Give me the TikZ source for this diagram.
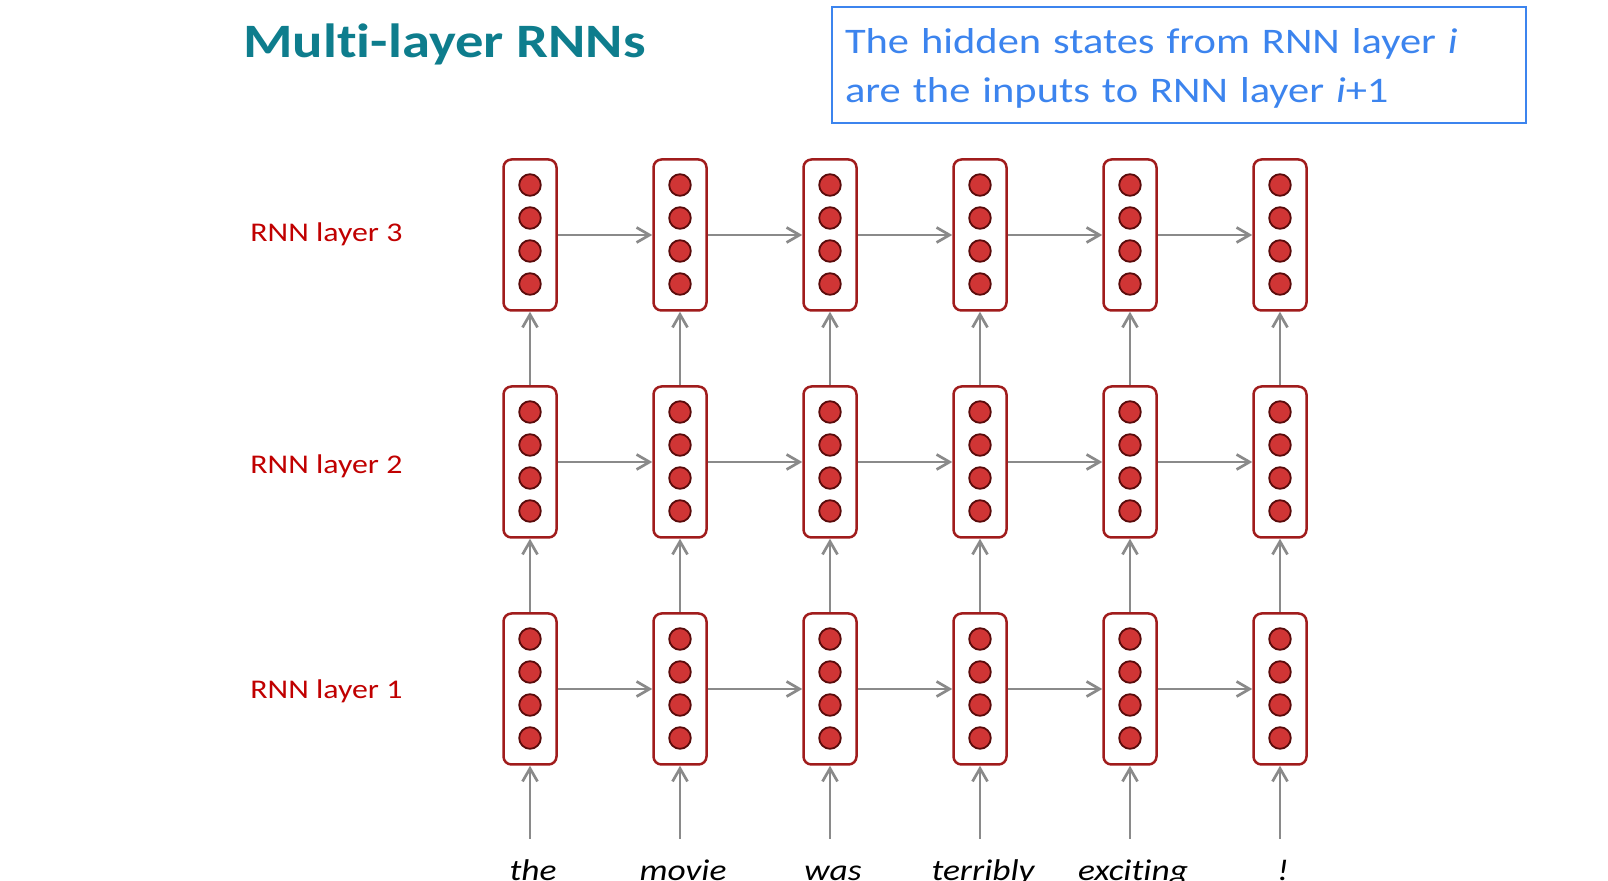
\documentclass[tikz,border=0pt]{standalone}
\usepackage{fontspec}
\setmainfont{Carlito}[FakeStretch=1.18, Ligatures=NoCommon]
\usetikzlibrary{arrows.meta, positioning}
\definecolor{SlideTeal}{HTML}{0E7D8D}
\definecolor{NoteBlue}{HTML}{3C84EE}
\definecolor{LayerRed}{HTML}{C00000}
\definecolor{CellRed}{HTML}{A01C1C}
\definecolor{UnitRed}{HTML}{D03535}
\definecolor{UnitEdge}{HTML}{5A0B0B}
\definecolor{LinkGray}{HTML}{8A8A8A}

\begin{document}
\begin{tikzpicture}[x=0.5pt, y=-0.5pt, >={Straight Barb[length=6.5pt, width=7.5pt]},
  cell/.style={draw=CellRed, line width=1.25pt, rounded corners=4pt, fill=white,
               minimum width=26.5pt, minimum height=75.5pt, inner sep=0pt},
  unit/.style={fill=UnitRed, draw=UnitEdge, line width=0.9pt},
  link/.style={->, draw=LinkGray, line width=1.35pt},
  layer/.style={font=\fontsize{13.5}{15}\selectfont, text=LayerRed, anchor=base west, inner sep=0pt},
  word/.style={font=\fontsize{15}{18}\selectfont\itshape, anchor=base, inner sep=0pt},
  note/.style={draw=NoteBlue, line width=1pt, text=NoteBlue, font=\fontsize{18}{24.5}\selectfont,
               text width=334pt, align=left, inner xsep=6.5pt, inner ysep=6.5pt,
               minimum height=58pt, anchor=north west}]
  \useasboundingbox (0,0) rectangle (1608,881);

  \node[font=\fontsize{24}{28}\selectfont\bfseries, text=SlideTeal, anchor=base west, inner sep=0pt]
    (title) at (243,58) {Multi-layer RNNs};
  \node[note] (note) at (831,6)
    {\rule{0pt}{16pt}The hidden states from RNN layer \textit{i}\\are the inputs to RNN layer \textit{i}+1};

  \foreach \l/\y in {1/699, 2/474, 3/242}
    \node[layer] (lab-\l) at (250,\y) {RNN layer \l};

  \foreach \l in {1,2,3}
    \foreach \i in {1,...,6} {
      \node[cell] (c-\l-\i) at ({530+150*(\i-1)},{689-227*(\l-1)}) {};
      \foreach \k in {25pt,8.5pt,-8pt,-24.5pt}
        \draw[unit] ([yshift=\k]c-\l-\i.center) circle[radius=5.4pt];
    }

  \foreach \l in {1,2,3}
    \foreach \i [count=\j from 2] in {1,...,5}
      \draw[link] (c-\l-\i.east) -- (c-\l-\j.west);
  \foreach \i in {1,...,6} {
    \draw[link] (c-1-\i.north) -- (c-2-\i.south);
    \draw[link] (c-2-\i.north) -- (c-3-\i.south);
  }

  \foreach \w [count=\i] in {the, movie, was, terribly, exciting, !} {
    \node[word] (w-\i) at ({533+150*(\i-1)},881) {\w};
    \coordinate (in-\i) at ({530+150*(\i-1)},839);
    \draw[link] (in-\i) -- (c-1-\i.south);
  }
\end{tikzpicture}
\end{document}
